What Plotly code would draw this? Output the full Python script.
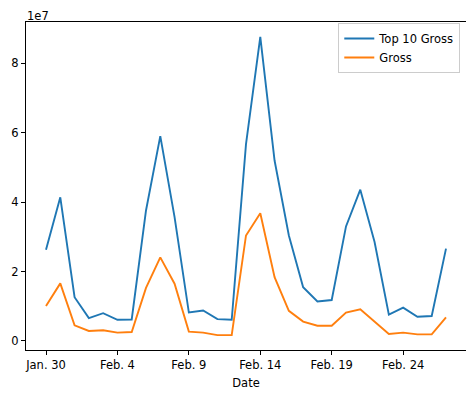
import pandas as pd
import plotly.graph_objects as go

dates = pd.date_range("2021-01-30", "2021-02-27", freq="D")
top10_gross = [26.3e6, 41.4e6, 12.6e6, 6.6e6, 8.0e6, 6.1e6, 6.2e6, 37.6e6, 59.0e6, 35.7e6,
               8.2e6, 8.8e6, 6.3e6, 6.1e6, 56.7e6, 87.6e6, 52.0e6, 30.4e6, 15.5e6, 11.4e6,
               11.8e6, 33.0e6, 43.6e6, 28.5e6, 7.6e6, 9.6e6, 7.0e6, 7.2e6, 26.6e6]
gross = [10.1e6, 16.6e6, 4.5e6, 2.9e6, 3.1e6, 2.4e6, 2.6e6, 15.3e6, 24.1e6, 16.5e6,
         2.7e6, 2.4e6, 1.7e6, 1.7e6, 30.4e6, 36.8e6, 18.4e6, 8.7e6, 5.6e6, 4.4e6,
         4.4e6, 8.2e6, 9.1e6, 5.6e6, 2.0e6, 2.4e6, 1.9e6, 1.9e6, 6.8e6]
tick_dates = ["2021-01-30", "2021-02-04", "2021-02-09", "2021-02-14", "2021-02-19", "2021-02-24"]
tick_labels = ["Jan. 30", "Feb. 4", "Feb. 9", "Feb. 14", "Feb. 19", "Feb. 24"]
y_ticks = [0, 2e7, 4e7, 6e7, 8e7]
y_labels = ["0", "2", "4", "6", "8"]

font = dict(family="DejaVu Sans", size=11.5, color="black")

fig = go.Figure()
fig.add_trace(go.Scatter(x=dates, y=top10_gross, mode="lines", name="Top 10 Gross",
                         line=dict(color="#1f77b4", width=1.9)))
fig.add_trace(go.Scatter(x=dates, y=gross, mode="lines", name="Gross",
                         line=dict(color="#ff7f0e", width=1.9)))

span = dates[-1] - dates[0]
pad = span * 0.05
ymin, ymax = min(min(top10_gross), min(gross)), max(max(top10_gross), max(gross))
ypad = (ymax - ymin) * 0.05

axis_common = dict(showline=True, linecolor="black", linewidth=1, mirror=True,
                   ticks="outside", ticklen=4, tickwidth=1, tickcolor="black",
                   showgrid=False, zeroline=False, tickfont=font, automargin=False)

fig.update_layout(
    width=474, height=397,
    margin=dict(l=18, r=16, t=14, b=55),
    paper_bgcolor="white", plot_bgcolor="white",
    font=font,
    xaxis=dict(range=[dates[0] - pad, dates[-1] + pad], tickvals=tick_dates,
               ticktext=tick_labels, title=dict(text="Date", font=font, standoff=8),
               **axis_common),
    yaxis=dict(range=[ymin - ypad, ymax + ypad], tickvals=y_ticks, ticktext=y_labels,
               **axis_common),
    legend=dict(x=0.987, y=0.997, xanchor="right", yanchor="top",
                bordercolor="#cccccc", borderwidth=1, bgcolor="rgba(255,255,255,0.8)",
                font=font, tracegroupgap=0, itemwidth=30),
    annotations=[dict(text="1e7", xref="paper", yref="paper", x=0, y=1,
                      xanchor="left", yanchor="bottom", yshift=-2, borderpad=0,
                      showarrow=False, font=font)],
    showlegend=True,
)

fig.write_html("out.html")
